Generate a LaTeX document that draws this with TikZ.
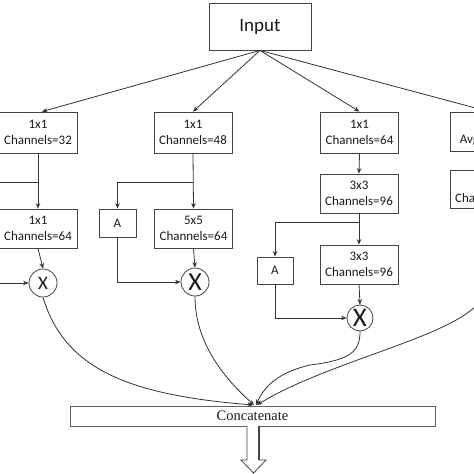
\documentclass[tikz,border=0pt]{standalone}
\usepackage{fontspec}
\setmainfont{Carlito}
\newfontfamily\concatfont{Liberation Serif}
\usetikzlibrary{arrows.meta}
\definecolor{ln}{HTML}{333333}
\definecolor{bx}{HTML}{444444}
\definecolor{tx}{HTML}{1A1A1A}
\tikzset{
  box/.style={draw=bx, line width=0.8pt, fill=white, text=tx, align=center, inner sep=0pt,
    minimum width=78pt, minimum height=39pt, font=\fontsize{13}{16}\selectfont},
  abox/.style={box, minimum width=37pt, minimum height=28pt},
  mult/.style={draw=bx, line width=0.8pt, circle, fill=white, text=tx, inner sep=0pt, minimum size=28pt},
  conn/.style={draw=ln, line width=0.8pt},
  arr/.style={conn, -{Stealth[length=5.5pt,width=4.5pt]}},
}
\begin{document}
\begin{tikzpicture}[x=1pt,y=-1pt]
\useasboundingbox (0,0) rectangle (474,474);
\clip (0,0) rectangle (474,474);
% nodes
\node[box, minimum width=102pt, minimum height=47pt, font=\fontsize{19}{22}\selectfont] (in) at (260,26.5) {Input};
\node[box, minimum height=41pt] (b1) at (38,132.5) {1x1\\Channels=32};
\node[box, minimum height=41pt] (b2) at (193,132.5) {1x1\\Channels=48};
\node[box, minimum height=41pt] (b3) at (359.5,132.5) {1x1\\Channels=64};
\node[box, minimum height=39pt] (b4) at (489,131.5) {\strut\\AvgPooling};
\node[box] (b5) at (38,228.5) {1x1\\Channels=64};
\node[abox] (a1) at (117.5,223) {A};
\node[box] (b6) at (193.5,228.5) {5x5\\Channels=64};
\node[box] (b7) at (359,193.5) {3x3\\Channels=96};
\node[box] (b8) at (359,264.5) {3x3\\Channels=96};
\node[abox, minimum width=36pt, minimum height=27pt] (a2) at (275,270.5) {A};
\node[box, minimum height=38pt] (b9) at (489,189) {\strut\\Channels=32};
\node[mult, font=\fontsize{19}{19}\selectfont] (x1) at (43,283) {X};
\node[mult, font=\fontsize{26}{26}\selectfont] (x2) at (195,282) {X};
\node[mult, minimum size=26pt, font=\fontsize{27}{27}\selectfont] (x3) at (360,318) {X};
\node[draw=bx!85, line width=0.8pt, minimum width=365pt, minimum height=20pt, inner sep=0pt,
  text=tx, font=\concatfont\fontsize{14.5}{16}\selectfont] (cat) at (252.5,416) {Concatenate};
% helper coordinates
\coordinate (j1) at (38,182);
\coordinate (l1) at (-10,182);
\coordinate (l2) at (-10,283);
\coordinate (j2) at (193,182);
\coordinate (j3) at (359,222);
\coordinate (r1) at (482,298);
\coordinate (c1) at (253,405);
\coordinate (c2) at (254,405);
\coordinate (c3) at (256,405);
\coordinate (c4) at (257,405);
% input fan
\draw[arr] (in.south) -- ([xshift=4pt]b1.north);
\draw[arr] (in.south) -- (b2.north);
\draw[arr] (in.south) -- (b3.north);
\draw[arr] (in.south) -- (b4.north);
% branch 1
\draw[arr] (b1.south) -- (b5.north);
\draw[conn] (j1) -- (l1);
\draw[arr] (l2) -- (x1.west);
\draw[arr] (b5.south) -- (x1.north);
% branch 2
\draw[arr] (b2.south) -- (b6.north);
\draw[arr] (j2) -| (a1.north);
\draw[arr] (a1.south) |- (x2.west);
\draw[arr] (b6.south) -- (x2.north);
% branch 3
\draw[arr] (b3.south) -- (b7.north);
\draw[arr] (b7.south) -- (b8.north);
\draw[arr] (j3) -| (a2.north);
\draw[arr] (a2.south) |- (x3.west);
\draw[arr] (b8.south) -- (x3.north);
% branch 4
\draw[arr] (b4.south) -- (b9.north);
% to concatenate
\draw[arr] (x1.south) .. controls (65,370) and (130,395) .. (c1);
\draw[arr] (x2.south) .. controls (195,335) and (215,370) .. (c2);
\draw[arr] (x3.south) .. controls (360,352) and (350,360) .. (310,365) .. controls (280,372) and (265,385) .. (c3);
\draw[arr] (r1) .. controls (462,335) and (330,360) .. (c4);
% output arrow
\draw[draw=bx, line width=0.8pt, fill=white] (247,426) -- (247,460) -- (241,460) -- (253.5,473) -- (266,460) -- (259,460) -- (259,426);
\draw[draw=bx, line width=1.4pt] (259,426) -- (259,460);
\end{tikzpicture}
\end{document}
